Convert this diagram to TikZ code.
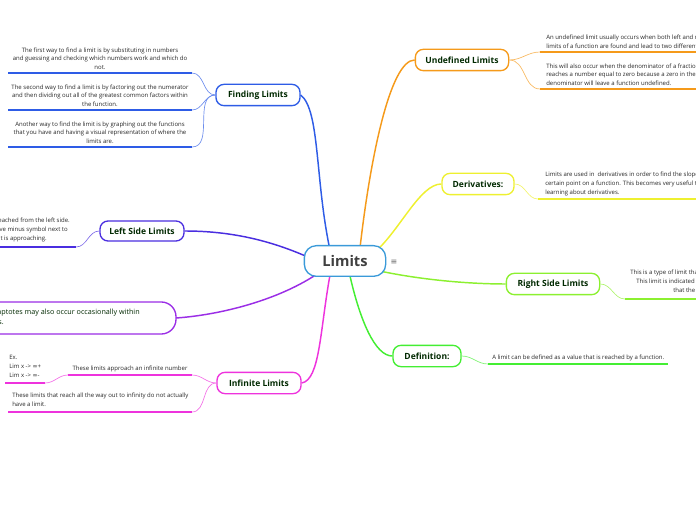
\documentclass[tikz,border=0pt]{standalone}
\usepackage{fontspec}
\setmainfont{Open Sans}
\newfontfamily\dvs{DejaVu Sans}
\begin{document}
\begin{tikzpicture}[x=0.75pt,y=-0.75pt,
  topic/.style={draw=#1,line width=1pt,rounded corners=6pt,fill=white,inner sep=0pt,font=\fontsize{6.4}{8}\selectfont\bfseries,text=black!60!green!40!black},
  sm/.style={font=\fontsize{4.5}{6.6}\selectfont,text=black!85,inner sep=0pt},
  br/.style={draw=#1,line width=1.1pt},
  tw/.style={draw=#1!70,line width=0.5pt},
  ul/.style={draw=#1,line width=1.3pt}]
\useasboundingbox (0,0) rectangle (696,520);
\definecolor{cb}{HTML}{2E5CE6}\definecolor{cl}{HTML}{4A2EE0}\definecolor{cp}{HTML}{9B2EE6}
\definecolor{cm}{HTML}{EE33DD}\definecolor{co}{HTML}{F59A1A}\definecolor{cy}{HTML}{EEF030}
\definecolor{cg}{HTML}{8CF030}\definecolor{cd}{HTML}{44EE33}\definecolor{cc}{HTML}{3A9AD9}
\node[topic=cb,minimum width=63pt,minimum height=16pt] (fl) at (258,95) {Finding Limits};
\node[topic=cl,minimum width=63pt,minimum height=15pt] (ls) at (142,231) {Left Side Limits};
\node[topic=cm,minimum width=63pt,minimum height=16pt] (il) at (259,383) {Infinite Limits};
\node[topic=co,minimum width=70pt,minimum height=16pt] (ul) at (462,60) {Undefined Limits};
\node[topic=cy,minimum width=54pt,minimum height=16pt] (dv) at (478,184) {Derivatives:};
\node[topic=cg,minimum width=70pt,minimum height=16pt] (rs) at (553,284) {Right Side Limits};
\node[topic=cd,minimum width=51pt,minimum height=16pt] (df) at (427,356) {Definition:};
\coordinate (aw) at (176,318);
\draw[br=cb] (330,250) .. controls (315,180) and (320,110) .. (fl.east);
\draw[br=cl] (310,258) .. controls (270,240) and (230,231) .. (ls.east);
\draw[br=cp] (320,272) .. controls (280,300) and (220,315) .. (aw);
\draw[br=cm] (330,275) .. controls (320,330) and (320,380) .. (il.east);
\draw[br=co] (360,248) .. controls (370,160) and (390,60) .. (ul.west);
\draw[br=cy] (375,252) .. controls (400,230) and (420,184) .. (dv.west);
\draw[br=cg] (375,270) .. controls (420,280) and (470,284) .. (rs.west);
\draw[br=cd] (350,276) .. controls (360,320) and (375,356) .. (df.west);
\node[draw=cc,line width=1pt,rounded corners=9pt,fill=white,minimum width=61pt,minimum height=23pt,font=\fontsize{11}{13}\selectfont\bfseries,text=black!75] (lim) at (345,261) {Limits};
\node[font=\dvs\fontsize{6}{8}\selectfont,text=black!60] (eq) at (394,262) {≡};
% Finding limits children
\coordinate (f1) at (192,73);\coordinate (f2) at (192,110);\coordinate (f3) at (192,147);
\draw[tw=cb] (fl.west) to[out=180,in=0] (f1);
\draw[tw=cb] (fl.west) to[out=180,in=0] (f2);
\draw[tw=cb] (fl.west) to[out=180,in=0] (f3);
\draw[ul=cb] (8,73) -- (f1); \draw[ul=cb] (8,110) -- (f2); \draw[ul=cb] (8,147) -- (f3);
\node[sm,align=center,anchor=south] (t1) at (100,70) {The first way to find a limit is by substituting in numbers\\and guessing and checking which numbers work and which do\\not.};
\node[sm,align=center,anchor=south] (t2) at (100,107) {The second way to find a limit is by factoring out the numerator\\and then dividing out all of the greatest common factors within\\the function.};
\node[sm,align=center,anchor=south] (t3) at (100,144) {Another way to find the limit is by graphing out the functions\\that you have and having a visual representation of where the\\limits are.};
% left side
\coordinate (l1) at (76,247);\coordinate (l0) at (0,247);
\draw[tw=cl] (ls.west) to[out=180,in=0] (l1);
\draw[ul=cl] (l0) -- (l1);
\node[sm,anchor=base east] (lt1) at (70,223) {This is a type of limit that is reached from the left side.};
\node[sm,anchor=base east] (lt2) at (68,232) {This limit is indicated by a negative minus symbol next to};
\node[sm,anchor=base east] (lt3) at (47,241) {the number that the limit is approaching.};
% asymptote
\draw[draw=cp,line width=1pt,rounded corners=11pt,fill=white] (-20,302) rectangle (aw|-0,334);
\node[font=\fontsize{5.4}{8}\selectfont,text=black!60!green!40!black,anchor=base east,inner sep=0pt] (as1) at (140,315) {Vertical asymptotes may also occur occasionally within};
\node[font=\fontsize{5.4}{8}\selectfont,text=black!60!green!40!black,anchor=base east,inner sep=0pt] (as2) at (4,325) {limits.};
% infinite
\coordinate (i1) at (192,375);\coordinate (i0) at (68,375);\coordinate (i2) at (192,412);\coordinate (i2s) at (8,412);
\draw[tw=cm] (il.west) to[out=180,in=0] (i1);
\draw[tw=cm] (il.west) to[out=180,in=0] (i2);
\draw[ul=cm] (i0) -- (i1); \draw[ul=cm] (i2s) -- (i2);
\coordinate (e1) at (45,383);\coordinate (e0) at (5,383);
\draw[tw=cm] (i0) to[out=180,in=0] (e1);
\draw[ul=cm] (e0) -- (e1);
\node[sm,anchor=south] (it1) at (130,372) {These limits approach an infinite number};
\node[sm,align=left,anchor=north west] (ex) at (9,355) {Ex.\\Lim x -> {\dvs ∞}+\\Lim x -> {\dvs ∞}-};
\node[sm,align=left,anchor=north west] (it2) at (12,393) {These limits that reach all the way out to infinity do not actually\\have a limit.};
% undefined
\coordinate (u1) at (540,52);\coordinate (u2) at (540,89);
\coordinate (u1e) at (700,52);\coordinate (u2e) at (700,89);
\draw[tw=co] (ul.east) to[out=0,in=180] (u1);
\draw[tw=co] (ul.east) to[out=0,in=180] (u2);
\draw[ul=co] (u1) -- (u1e); \draw[ul=co] (u2) -- (u2e);
\node[sm,align=left,anchor=south west] (ut1) at (546,49) {An undefined limit usually occurs when both left and right hand\\limits of a function are found and lead to two different answers.};
\node[sm,align=left,anchor=south west] (ut2) at (546,86) {This will also occur when the denominator of a fraction\\reaches a number equal to zero because a zero in the\\denominator will leave a function undefined.};
% derivatives
\coordinate (d1) at (538,199);\coordinate (d1e) at (700,199);
\draw[tw=cy] (dv.east) to[out=0,in=180] (d1);
\draw[ul=cy] (d1) -- (d1e);
\node[sm,align=left,anchor=south west] (dt) at (545,196) {Limits are used in\ \ derivatives in order to find the slope of a\\certain point on a function. This becomes very useful to know when\\learning about derivatives.};
% right side
\coordinate (r1) at (625,299);\coordinate (r1e) at (700,299);
\draw[tw=cg] (rs.east) to[out=0,in=180] (r1);
\draw[ul=cg] (r1) -- (r1e);
\node[sm,anchor=base west] (rt1) at (630,275) {This is a type of limit that is reached from the right side.};
\node[sm,anchor=base west] (rt2) at (636,284) {This limit is indicated by a plus symbol next to the number};
\node[sm,anchor=base west] (rt3) at (673,293) {that the limit is approaching.};
% definition
\coordinate (g1) at (488,364);\coordinate (g1e) at (668,364);
\draw[tw=cd] (df.east) to[out=0,in=180] (g1);
\draw[ul=cd] (g1) -- (g1e);
\node[sm,anchor=south west] (gt) at (492,361) {A limit can be defined as a value that is reached by a function.};
\end{tikzpicture}
\end{document}
